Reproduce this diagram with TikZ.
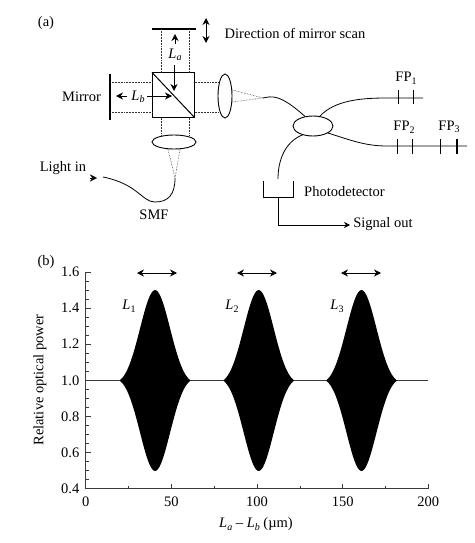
\documentclass[tikz,border=0pt]{standalone}
\usepackage{fontspec}
\setmainfont{Liberation Serif}
\usetikzlibrary{positioning, shapes.geometric, arrows.meta, calc}
\newcommand{\Lsub}[1]{\textit{L}\raisebox{-2.6pt}{\fontsize{10}{11}\selectfont\textit{#1}}}
\newcommand{\Lnum}[1]{\textit{L}\raisebox{-2.6pt}{\fontsize{10}{11}\selectfont #1}}
\newcommand{\FPsub}[1]{FP\raisebox{-2.6pt}{\fontsize{10}{11}\selectfont #1}}
\definecolor{axisgray}{HTML}{3a3a3a}
\tikzset{
  lbl/.style={inner sep=0pt, font=\fontsize{14.5}{16}\selectfont},
  mirr/.style={line width=1.7pt},
  beam/.style={densely dotted, line width=.55pt, black!80},
  fibre/.style={line width=.8pt},
  gratingmark/.style={line width=.6pt},
  lens/.style={ellipse, draw, line width=.9pt, inner sep=0pt, fill=white},
  ptr/.style={-{Stealth[length=7pt,width=7pt]}, line width=.7pt},
  dptr/.style={{Stealth[length=7pt,width=7pt]}-{Stealth[length=7pt,width=7pt]}, line width=.7pt},
  scanptr/.style={{Stealth[length=7pt,width=7pt]}-{Stealth[length=7pt,width=7pt]}, line width=1pt},
  declare function={env(\d)=exp(-\d*\d/140)*(1-(abs(\d)/20.5)^6);}
}
\begin{document}
\begin{tikzpicture}[x=1pt, y=-1pt]
  \useasboundingbox (0,0) rectangle (474,543);
  \node[lbl] (parta) at (46,23) {(a)};
  \node[lbl] (partb) at (46,262) {(b)};

  \node[draw, line width=.7pt, minimum width=42pt, minimum height=44.5pt, inner sep=0pt] (cube) at (173.3,95) {};
  \draw[line width=1pt] (cube.north west) -- (cube.south east);
  \node[lens, minimum width=14pt, minimum height=44pt] (lensr) at (225,96) {};
  \node[lens, minimum width=44pt, minimum height=14pt] (lensb) at (174,142) {};
  \node[lens, minimum width=40pt, minimum height=20pt] (coupler) at (313,126) {};

  \coordinate (mtopl) at (152,28.7);
  \coordinate (mtopr) at (196,28.7);
  \coordinate (mleftt) at (110,74);
  \coordinate (mleftb) at (110,120);
  \draw[mirr] (mtopl) -- (mtopr);
  \draw[mirr] (mleftt) -- (mleftb);

  \draw[beam] (161,29) -- (161,72.5);
  \draw[beam] (189,29) -- (189,72.5);
  \draw[beam] (110,82) -- (152,82);
  \draw[beam] (110,112) -- (152,112);
  \draw[beam] (194.5,82) -- (218,82);
  \draw[beam] (194.5,112) -- (218,112);
  \draw[beam] (161,117.5) -- (161,135);
  \draw[beam] (189,117.5) -- (189,135);

  \coordinate (tipr) at (263,98);
  \coordinate (tipb) at (175,178);
  \draw[beam] (lensr.40) -- (tipr);
  \draw[beam] (lensr.-40) -- (tipr);
  \draw[beam] (lensb.-130) -- (tipb);
  \draw[beam] (lensb.-50) -- (tipb);

  \node[lbl] (scantxt) at (295,33) {Direction of mirror scan};
  \coordinate (scant) at (206,18);
  \coordinate (scanb) at (206,43);
  \draw[scanptr] (scant) -- (scanb);

  \node[lbl] (la) at (175,55) {\Lsub{a}};
  \node[lbl] (lb) at (138,97) {\Lsub{b}};
  \coordinate (lat) at (175,34);
  \coordinate (lab) at (175,44);
  \coordinate (lbend) at (116,96);
  \coordinate (lbr) at (127,96);
  \coordinate (hitt) at (174,91);
  \coordinate (hitl) at (172,96);
  \coordinate (lafrom) at (174,65);
  \coordinate (lbfrom) at (147,96);
  \draw[ptr] (lab) -- (lat);
  \draw[ptr] (lafrom) -- (hitt);
  \draw[ptr] (lbr) -- (lbend);
  \draw[ptr] (lbfrom) -- (hitl);
  \node[lbl] (mirrortxt) at (81.5,97) {Mirror};

  \node[lbl] (lightin) at (63,168) {Light in};
  \node[lbl] (smf) at (154,215) {SMF};
  \coordinate (inhead) at (97,178);
  \coordinate (instart) at (103,177);
  \coordinate (intip) at (90,178);
  \draw[-{Stealth[length=7pt,width=7pt]}, line width=.3pt] (intip) -- (inhead);
  \draw[fibre] (tipb) .. controls (175,195) and (168,202) .. (155,202)
    .. controls (142,202) and (138,184) .. (instart);

  \coordinate (out1) at (423,98);
  \coordinate (out2) at (467,146);
  \draw[fibre] (tipr) .. controls (272,96) and (280,94) .. (coupler.130);
  \draw[fibre] (coupler.55) .. controls (335,100) and (362,98) .. (387,98) -- (out1);
  \draw[fibre] (coupler.-25) .. controls (350,140) and (365,146) .. (387,146) -- (out2);

  \foreach \gx in {398,413} \draw[gratingmark] (\gx,90) -- (\gx,104);
  \foreach \gx in {397,412,440} \draw[gratingmark] (\gx,139) -- (\gx,154);
  \draw[line width=1.2pt] (457,139) -- (457,154);
  \node[lbl] (fp1) at (406,78) {\FPsub{1}};
  \node[lbl] (fp2) at (404,127) {\FPsub{2}};
  \node[lbl] (fp3) at (449,127) {\FPsub{3}};

  \coordinate (dtl) at (263,181);
  \coordinate (dbl) at (263,197);
  \coordinate (dbr) at (293,197);
  \coordinate (dtr) at (293,181);
  \coordinate (dmid) at (278,197);
  \coordinate (dtop) at (278,179);
  \coordinate (sigend) at (350,225);
  \draw[line width=.8pt] (dtl) -- (dbl) -- (dbr) -- (dtr);
  \draw[fibre] (coupler.-140) .. controls (285,142) and (278,160) .. (dtop);
  \draw[-{Stealth[length=6pt,width=6pt]}, line width=.8pt] (dmid) |- (sigend);
  \node[lbl] (pdtxt) at (344.5,192) {Photodetector};
  \node[lbl] (sigtxt) at (383,224) {Signal out};

  % plot
  \coordinate (org) at (85.7,488.7);
  \coordinate (xend) at (428.3,488.7);
  \coordinate (yend) at (85.7,272);
  \draw[axisgray, line width=.9pt] (85.7,380.5) -- (428.3,380.5);
  \foreach \pk in {40.5,101,161}
    \fill[black] plot[domain={\pk-20.5}:{\pk+20.5}, samples=70] ({85.7+1.713*\x},{380.5-90*env(\x-\pk)-.4})
      -- plot[domain={\pk+20.5}:{\pk-20.5}, samples=70] ({85.7+1.713*\x},{380.5+90*env(\x-\pk)+.4}) -- cycle;
  \draw[axisgray, line width=.9pt] (yend) -- (org) -- (xend);
  \foreach \n in {0,...,24} \draw[axisgray, line width=.6pt] (85.7,{488.7-\n*9.03}) -- ++(3,0);
  \foreach \n in {0,...,6} \draw[axisgray, line width=.6pt] (85.7,{488.7-\n*36.12}) -- ++(5,0);
  \foreach \n in {0,...,8} \draw[axisgray, line width=.6pt] ({85.7+\n*42.83},488.7) -- ++(0,-3);
  \foreach \n in {0,...,4} \draw[axisgray, line width=.6pt] ({85.7+\n*85.65},488.7) -- ++(0,-5);
  \foreach \v/\n in {0.4/0,0.6/1,0.8/2,1.0/3,1.2/4,1.4/5,1.6/6}
    \node[lbl, anchor=east] (y\n) at (79.5,{488.7-\n*36.12}) {\v};
  \foreach \v/\n in {0/0,50/1,100/2,150/3,200/4}
    \node[lbl] (x\n) at ({85.7+\n*85.65},502) {\v};
  \node[lbl, rotate=90] (ylab) at (40,380) {Relative optical power};
  \node[lbl] (xlab) at (256,524) {\Lsub{a} -- \Lsub{b} (µm)};

  \coordinate (w1l) at (137,273); \coordinate (w1r) at (177,273);
  \coordinate (w2l) at (237,273); \coordinate (w2r) at (277,273);
  \coordinate (w3l) at (341,273); \coordinate (w3r) at (381,273);
  \draw[dptr] (w1l) -- (w1r);
  \draw[dptr] (w2l) -- (w2r);
  \draw[dptr] (w3l) -- (w3r);
  \node[lbl] (l1) at (129,306) {\Lnum{1}};
  \node[lbl] (l2) at (232,306) {\Lnum{2}};
  \node[lbl] (l3) at (337,306) {\Lnum{3}};
\end{tikzpicture}
\end{document}
